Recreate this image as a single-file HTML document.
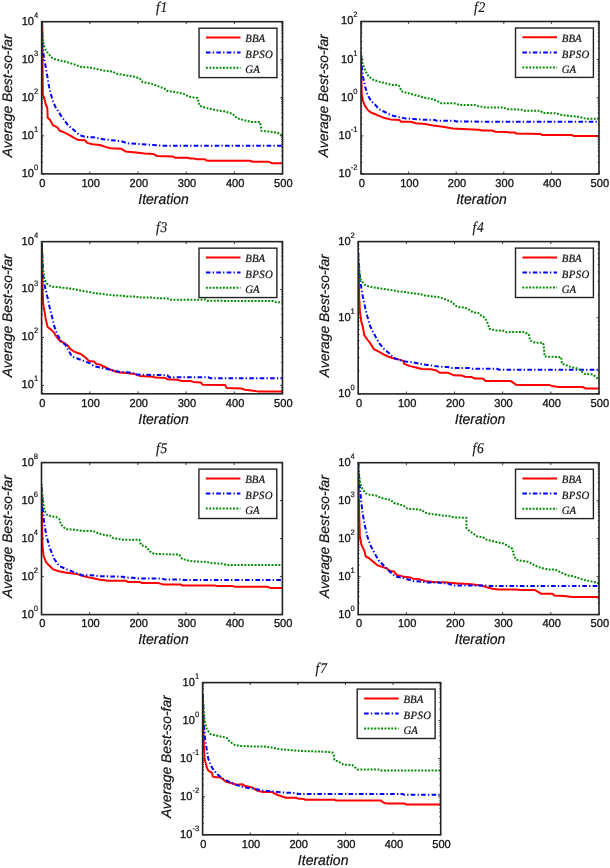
<!DOCTYPE html>
<html><head><meta charset="utf-8"><style>
html,body{margin:0;padding:0;background:#fff;}
svg{display:block;}

text{text-rendering:geometricPrecision;}
.tk{font-family:"Liberation Sans",Arial,sans-serif;font-size:11.1px;fill:#111;stroke:#111;stroke-width:0.3px;}
.sp{font-size:7.6px;stroke-width:0.18px;}
.lab{font-family:"Liberation Sans",Arial,sans-serif;font-style:italic;font-size:14.0px;fill:#111;stroke:#111;stroke-width:0.2px;}
.ylab{font-size:13.85px;}
.ti{font-family:"Liberation Serif","Times New Roman",serif;font-style:italic;font-size:13.5px;fill:#111;letter-spacing:0.8px;stroke:#111;stroke-width:0.15px;}
.lg{font-family:"Liberation Serif","Times New Roman",serif;font-style:italic;font-size:10.8px;fill:#111;stroke:#111;stroke-width:0.2px;}
</style></head><body>
<div id="wrap"><svg width="610" height="868" viewBox="0 0 610 868">
<rect width="610" height="868" fill="#fff"/>
<clipPath id="cf1"><rect x="41.65" y="21.7" width="240.9" height="152.2"/></clipPath>
<g clip-path="url(#cf1)">
<polyline points="42.3,24.5 42.4,40.0 42.5,60.0 42.8,94.8 44.2,97.9 45.6,104.0 47.3,108.0 47.7,117.7 49.9,119.8 53.0,125.2 57.3,127.3 59.4,130.5 63.7,132.2 69.0,134.8 75.4,138.6 78.6,140.1 85.0,140.3 87.2,142.9 92.5,144.3 99.9,145.0 106.3,147.1 110.6,148.2 121.3,148.8 125.5,151.4 136.2,152.4 144.7,153.5 153.2,153.9 157.0,156.0 173.0,156.5 175.2,157.8 188.0,157.8 190.1,158.6 194.4,158.6 196.5,159.3 205.0,159.3 207.2,160.8 249.8,160.8 253.0,161.8 269.0,161.8 272.2,163.3 283.0,163.3" stroke="#ff0000" stroke-width="2" fill="none" stroke-linejoin="round"/>
<polyline points="41.8,22.0 41.9,27.3 42.7,49.1 43.7,55.4 45.3,64.7 47.3,76.1 49.4,88.6 52.5,100.0 55.6,107.3 61.6,116.6 68.0,125.2 74.4,130.5 79.7,135.2 85.0,136.9 93.5,137.3 102.1,139.0 110.6,140.1 121.3,141.2 127.6,143.3 142.6,144.3 153.2,145.0 162.4,145.8 283.0,145.8" stroke="#0000ff" stroke-width="2" fill="none" stroke-dasharray="4.6 2.2 1.3 2.3" stroke-linejoin="round"/>
<polyline points="41.8,22.0 41.9,26.3 42.7,38.8 43.7,45.0 45.8,50.2 48.4,53.8 51.5,57.4 55.6,59.5 60.8,60.6 67.1,62.1 74.4,64.4 81.8,67.2 89.3,67.4 97.8,69.3 106.3,71.0 112.7,71.5 115.9,73.6 125.5,75.3 135.1,76.8 140.4,78.9 142.6,82.1 151.1,83.6 158.5,86.4 164.5,88.5 166.7,90.7 175.2,92.1 183.7,93.8 189.0,96.8 197.6,98.1 199.7,106.0 207.2,108.1 215.7,110.2 224.2,111.3 232.7,113.9 237.0,118.3 245.5,120.5 251.9,122.0 260.0,122.0 261.5,130.9 269.0,131.6 277.5,132.6 281.7,135.2 283.0,136.0" stroke="#008c00" stroke-width="2" fill="none" stroke-dasharray="1.9 1.5" stroke-linejoin="round"/>
</g>
<path d="M41.65 173.9v-2.4M41.65 21.7v2.4M89.83 173.9v-2.4M89.83 21.7v2.4M138.01 173.9v-2.4M138.01 21.7v2.4M186.19 173.9v-2.4M186.19 21.7v2.4M234.37 173.9v-2.4M234.37 21.7v2.4M282.55 173.9v-2.4M282.55 21.7v2.4M41.65 173.9h2.4M282.55 173.9h-2.4M41.65 162.45h1.3M282.55 162.45h-1.3M41.65 155.75h1.3M282.55 155.75h-1.3M41.65 150.99h1.3M282.55 150.99h-1.3M41.65 147.3h1.3M282.55 147.3h-1.3M41.65 144.29h1.3M282.55 144.29h-1.3M41.65 141.74h1.3M282.55 141.74h-1.3M41.65 139.54h1.3M282.55 139.54h-1.3M41.65 137.59h1.3M282.55 137.59h-1.3M41.65 135.85h2.4M282.55 135.85h-2.4M41.65 124.4h1.3M282.55 124.4h-1.3M41.65 117.7h1.3M282.55 117.7h-1.3M41.65 112.94h1.3M282.55 112.94h-1.3M41.65 109.25h1.3M282.55 109.25h-1.3M41.65 106.24h1.3M282.55 106.24h-1.3M41.65 103.69h1.3M282.55 103.69h-1.3M41.65 101.49h1.3M282.55 101.49h-1.3M41.65 99.54h1.3M282.55 99.54h-1.3M41.65 97.8h2.4M282.55 97.8h-2.4M41.65 86.35h1.3M282.55 86.35h-1.3M41.65 79.65h1.3M282.55 79.65h-1.3M41.65 74.89h1.3M282.55 74.89h-1.3M41.65 71.2h1.3M282.55 71.2h-1.3M41.65 68.19h1.3M282.55 68.19h-1.3M41.65 65.64h1.3M282.55 65.64h-1.3M41.65 63.44h1.3M282.55 63.44h-1.3M41.65 61.49h1.3M282.55 61.49h-1.3M41.65 59.75h2.4M282.55 59.75h-2.4M41.65 48.3h1.3M282.55 48.3h-1.3M41.65 41.6h1.3M282.55 41.6h-1.3M41.65 36.84h1.3M282.55 36.84h-1.3M41.65 33.15h1.3M282.55 33.15h-1.3M41.65 30.14h1.3M282.55 30.14h-1.3M41.65 27.59h1.3M282.55 27.59h-1.3M41.65 25.39h1.3M282.55 25.39h-1.3M41.65 23.44h1.3M282.55 23.44h-1.3M41.65 21.7h2.4M282.55 21.7h-2.4" stroke="#222" stroke-width="0.9" fill="none"/>
<rect x="41.65" y="21.7" width="240.9" height="152.2" fill="none" stroke="#222" stroke-width="1.6"/>
<text transform="translate(42.45 186.65) scale(1 1.035)" class="tk" text-anchor="middle">0</text>
<text transform="translate(90.63 186.65) scale(1 1.035)" class="tk" text-anchor="middle">100</text>
<text transform="translate(138.81 186.65) scale(1 1.035)" class="tk" text-anchor="middle">200</text>
<text transform="translate(186.99 186.65) scale(1 1.035)" class="tk" text-anchor="middle">300</text>
<text transform="translate(235.17 186.65) scale(1 1.035)" class="tk" text-anchor="middle">400</text>
<text transform="translate(283.35 186.65) scale(1 1.035)" class="tk" text-anchor="middle">500</text>
<text transform="translate(38.25 176.8) scale(1 1.035)" class="tk" text-anchor="end">10<tspan class="sp" dy="-6.7">0</tspan></text>
<text transform="translate(38.25 138.75) scale(1 1.035)" class="tk" text-anchor="end">10<tspan class="sp" dy="-6.7">1</tspan></text>
<text transform="translate(38.25 100.7) scale(1 1.035)" class="tk" text-anchor="end">10<tspan class="sp" dy="-6.7">2</tspan></text>
<text transform="translate(38.25 62.65) scale(1 1.035)" class="tk" text-anchor="end">10<tspan class="sp" dy="-6.7">3</tspan></text>
<text transform="translate(38.25 24.6) scale(1 1.035)" class="tk" text-anchor="end">10<tspan class="sp" dy="-6.7">4</tspan></text>
<text transform="translate(163.6 203.7) scale(1 1.04)" class="lab" text-anchor="middle">Iteration</text>
<text transform="translate(12.15 95.8) rotate(-90)" class="lab ylab" text-anchor="middle">Average Best-so-far</text>
<text transform="translate(162.1 11.7) scale(1 1.1)" class="ti" text-anchor="middle">f1</text>
<rect x="199.05" y="28.2" width="77.9" height="49.4" fill="#fff" stroke="#222" stroke-width="1.4"/>
<line x1="205.95" x2="240.55" y1="37.5" y2="37.5" stroke="#ff0000" stroke-width="2" fill="none"/>
<text transform="translate(245.35 42.1) scale(1 1.04)" class="lg">BBA</text>
<line x1="205.95" x2="240.55" y1="52.6" y2="52.6" stroke="#0000ff" stroke-width="2" fill="none" stroke-dasharray="4.6 2.2 1.3 2.3"/>
<text transform="translate(245.35 57.7) scale(1 1.04)" class="lg" letter-spacing="0.35">BPSO</text>
<line x1="205.95" x2="240.55" y1="67.7" y2="67.7" stroke="#008c00" stroke-width="2" fill="none" stroke-dasharray="1.9 1.5"/>
<text transform="translate(245.35 73.3) scale(1 1.04)" class="lg">GA</text>
<clipPath id="cf2"><rect x="361" y="21.5" width="238" height="152.5"/></clipPath>
<g clip-path="url(#cf2)">
<polyline points="361.0,58.0 361.0,59.2 361.2,73.0 361.7,93.6 362.9,100.5 364.6,105.1 367.5,109.7 370.9,112.5 376.7,114.8 383.5,117.7 390.4,119.4 399.6,120.0 400.8,121.7 411.1,121.7 415.7,123.2 420.0,123.6 426.6,124.3 433.1,125.6 443.0,126.7 452.8,128.4 467.5,129.2 479.0,129.7 482.3,130.5 492.1,130.5 495.4,131.8 506.9,132.1 510.0,132.4 514.7,132.4 516.2,133.6 540.4,133.9 541.9,134.9 571.5,134.9 573.9,136.0 600.0,136.0" stroke="#ff0000" stroke-width="2" fill="none" stroke-linejoin="round"/>
<polyline points="361.1,55.5 361.2,56.9 361.7,67.2 362.9,76.4 365.2,86.7 367.5,94.8 370.9,100.5 375.5,105.1 379.0,109.1 384.7,112.0 391.6,115.4 398.5,117.1 404.2,118.3 413.4,118.9 423.3,119.7 434.8,120.0 436.4,120.7 454.4,120.7 456.9,121.6 600.0,121.8" stroke="#0000ff" stroke-width="2" fill="none" stroke-dasharray="4.6 2.2 1.3 2.3" stroke-linejoin="round"/>
<polyline points="361.1,52.0 361.2,54.6 362.3,62.6 365.2,70.7 368.6,76.4 373.2,79.8 379.0,81.6 385.8,83.3 392.7,85.0 398.5,85.0 400.2,87.9 401.3,91.3 407.6,93.0 415.7,95.3 424.9,97.7 433.1,99.3 439.7,102.1 441.3,103.3 454.4,103.3 459.3,104.9 474.1,104.9 477.4,105.9 485.6,107.5 503.6,107.5 506.9,109.2 520.9,109.5 524.0,110.7 540.4,110.7 542.7,112.9 556.7,113.4 559.8,114.6 567.6,115.7 578.5,116.8 586.3,118.8 600.0,118.8" stroke="#008c00" stroke-width="2" fill="none" stroke-dasharray="1.9 1.5" stroke-linejoin="round"/>
</g>
<path d="M361 174v-2.4M361 21.5v2.4M408.6 174v-2.4M408.6 21.5v2.4M456.2 174v-2.4M456.2 21.5v2.4M503.8 174v-2.4M503.8 21.5v2.4M551.4 174v-2.4M551.4 21.5v2.4M599 174v-2.4M599 21.5v2.4M361 174h2.4M599 174h-2.4M361 162.52h1.3M599 162.52h-1.3M361 155.81h1.3M599 155.81h-1.3M361 151.05h1.3M599 151.05h-1.3M361 147.35h1.3M599 147.35h-1.3M361 144.33h1.3M599 144.33h-1.3M361 141.78h1.3M599 141.78h-1.3M361 139.57h1.3M599 139.57h-1.3M361 137.62h1.3M599 137.62h-1.3M361 135.88h2.4M599 135.88h-2.4M361 124.4h1.3M599 124.4h-1.3M361 117.68h1.3M599 117.68h-1.3M361 112.92h1.3M599 112.92h-1.3M361 109.23h1.3M599 109.23h-1.3M361 106.21h1.3M599 106.21h-1.3M361 103.66h1.3M599 103.66h-1.3M361 101.44h1.3M599 101.44h-1.3M361 99.49h1.3M599 99.49h-1.3M361 97.75h2.4M599 97.75h-2.4M361 86.27h1.3M599 86.27h-1.3M361 79.56h1.3M599 79.56h-1.3M361 74.8h1.3M599 74.8h-1.3M361 71.1h1.3M599 71.1h-1.3M361 68.08h1.3M599 68.08h-1.3M361 65.53h1.3M599 65.53h-1.3M361 63.32h1.3M599 63.32h-1.3M361 61.37h1.3M599 61.37h-1.3M361 59.62h2.4M599 59.62h-2.4M361 48.15h1.3M599 48.15h-1.3M361 41.43h1.3M599 41.43h-1.3M361 36.67h1.3M599 36.67h-1.3M361 32.98h1.3M599 32.98h-1.3M361 29.96h1.3M599 29.96h-1.3M361 27.41h1.3M599 27.41h-1.3M361 25.19h1.3M599 25.19h-1.3M361 23.24h1.3M599 23.24h-1.3M361 21.5h2.4M599 21.5h-2.4" stroke="#222" stroke-width="0.9" fill="none"/>
<rect x="361" y="21.5" width="238" height="152.5" fill="none" stroke="#222" stroke-width="1.6"/>
<text transform="translate(361.8 186.75) scale(1 1.035)" class="tk" text-anchor="middle">0</text>
<text transform="translate(409.4 186.75) scale(1 1.035)" class="tk" text-anchor="middle">100</text>
<text transform="translate(457 186.75) scale(1 1.035)" class="tk" text-anchor="middle">200</text>
<text transform="translate(504.6 186.75) scale(1 1.035)" class="tk" text-anchor="middle">300</text>
<text transform="translate(552.2 186.75) scale(1 1.035)" class="tk" text-anchor="middle">400</text>
<text transform="translate(599.8 186.75) scale(1 1.035)" class="tk" text-anchor="middle">500</text>
<text transform="translate(357.6 176.9) scale(1 1.035)" class="tk" text-anchor="end">10<tspan class="sp" dy="-6.7">-2</tspan></text>
<text transform="translate(357.6 138.78) scale(1 1.035)" class="tk" text-anchor="end">10<tspan class="sp" dy="-6.7">-1</tspan></text>
<text transform="translate(357.6 100.65) scale(1 1.035)" class="tk" text-anchor="end">10<tspan class="sp" dy="-6.7">0</tspan></text>
<text transform="translate(357.6 62.52) scale(1 1.035)" class="tk" text-anchor="end">10<tspan class="sp" dy="-6.7">1</tspan></text>
<text transform="translate(357.6 24.4) scale(1 1.035)" class="tk" text-anchor="end">10<tspan class="sp" dy="-6.7">2</tspan></text>
<text transform="translate(481.5 203.8) scale(1 1.04)" class="lab" text-anchor="middle">Iteration</text>
<text transform="translate(327.9 95.75) rotate(-90)" class="lab ylab" text-anchor="middle">Average Best-so-far</text>
<text transform="translate(480 11.5) scale(1 1.1)" class="ti" text-anchor="middle">f2</text>
<rect x="515.5" y="28" width="77.9" height="49.4" fill="#fff" stroke="#222" stroke-width="1.4"/>
<line x1="522.4" x2="557" y1="37.3" y2="37.3" stroke="#ff0000" stroke-width="2" fill="none"/>
<text transform="translate(561.8 41.9) scale(1 1.04)" class="lg">BBA</text>
<line x1="522.4" x2="557" y1="52.4" y2="52.4" stroke="#0000ff" stroke-width="2" fill="none" stroke-dasharray="4.6 2.2 1.3 2.3"/>
<text transform="translate(561.8 57.5) scale(1 1.04)" class="lg" letter-spacing="0.35">BPSO</text>
<line x1="522.4" x2="557" y1="67.5" y2="67.5" stroke="#008c00" stroke-width="2" fill="none" stroke-dasharray="1.9 1.5"/>
<text transform="translate(561.8 73.1) scale(1 1.04)" class="lg">GA</text>
<clipPath id="cf3"><rect x="41.6" y="241.65" width="240.9" height="152.15"/></clipPath>
<g clip-path="url(#cf3)">
<polyline points="41.9,243.0 42.0,245.5 42.4,272.4 42.6,289.6 43.2,304.6 44.9,313.7 45.4,317.4 47.6,327.0 51.3,329.9 54.2,332.9 56.4,336.6 60.1,341.0 64.6,343.2 67.5,345.4 70.5,349.1 74.9,352.0 80.8,354.0 85.2,357.2 88.9,360.9 94.1,361.6 96.3,363.9 100.0,364.6 105.9,367.5 108.8,369.0 116.2,371.7 120.0,372.6 126.6,372.9 134.4,373.9 139.7,375.9 152.8,376.8 155.4,377.6 165.9,377.9 167.2,379.2 177.7,379.8 181.6,381.1 190.8,381.1 193.4,381.9 201.0,382.6 202.5,384.8 225.2,385.1 226.7,388.1 241.8,388.6 244.8,389.8 255.3,390.9 258.3,391.6 283.0,391.6" stroke="#ff0000" stroke-width="2" fill="none" stroke-linejoin="round"/>
<polyline points="41.9,243.0 42.0,247.2 42.4,261.0 43.2,275.9 44.3,283.9 46.0,290.8 47.8,298.8 49.5,306.9 51.8,316.0 54.2,326.2 57.9,335.8 61.6,341.7 65.3,344.7 68.2,349.8 71.9,356.5 77.8,358.7 83.7,360.9 89.6,363.1 94.1,366.1 100.0,367.5 107.3,369.0 114.7,370.8 120.0,372.0 131.8,372.6 137.0,374.6 167.2,375.2 169.2,377.2 208.6,377.3 210.1,378.2 283.0,378.2" stroke="#0000ff" stroke-width="2" fill="none" stroke-dasharray="4.6 2.2 1.3 2.3" stroke-linejoin="round"/>
<polyline points="41.9,243.0 42.0,250.6 42.4,261.0 43.2,270.1 44.3,278.2 46.6,283.3 49.5,285.6 52.9,286.8 58.7,287.1 64.4,287.9 70.1,288.5 75.9,289.6 81.6,290.8 88.5,291.9 94.2,292.9 100.0,293.7 106.6,294.6 114.8,295.4 123.0,295.7 126.2,296.6 136.1,296.6 139.3,297.4 152.5,297.4 155.7,298.2 167.2,298.4 170.5,299.8 205.6,299.6 207.1,300.8 273.4,301.1 276.4,302.2 283.0,302.2" stroke="#008c00" stroke-width="2" fill="none" stroke-dasharray="1.9 1.5" stroke-linejoin="round"/>
</g>
<path d="M41.6 393.8v-2.4M41.6 241.65v2.4M89.78 393.8v-2.4M89.78 241.65v2.4M137.96 393.8v-2.4M137.96 241.65v2.4M186.14 393.8v-2.4M186.14 241.65v2.4M234.32 393.8v-2.4M234.32 241.65v2.4M282.5 393.8v-2.4M282.5 241.65v2.4M41.6 392.77h1.3M282.5 392.77h-1.3M41.6 389.99h1.3M282.5 389.99h-1.3M41.6 387.54h1.3M282.5 387.54h-1.3M41.6 385.35h2.4M282.5 385.35h-2.4M41.6 370.93h1.3M282.5 370.93h-1.3M41.6 362.5h1.3M282.5 362.5h-1.3M41.6 356.51h1.3M282.5 356.51h-1.3M41.6 351.87h1.3M282.5 351.87h-1.3M41.6 348.08h1.3M282.5 348.08h-1.3M41.6 344.87h1.3M282.5 344.87h-1.3M41.6 342.09h1.3M282.5 342.09h-1.3M41.6 339.64h1.3M282.5 339.64h-1.3M41.6 337.45h2.4M282.5 337.45h-2.4M41.6 323.03h1.3M282.5 323.03h-1.3M41.6 314.6h1.3M282.5 314.6h-1.3M41.6 308.61h1.3M282.5 308.61h-1.3M41.6 303.97h1.3M282.5 303.97h-1.3M41.6 300.18h1.3M282.5 300.18h-1.3M41.6 296.97h1.3M282.5 296.97h-1.3M41.6 294.19h1.3M282.5 294.19h-1.3M41.6 291.74h1.3M282.5 291.74h-1.3M41.6 289.55h2.4M282.5 289.55h-2.4M41.6 275.13h1.3M282.5 275.13h-1.3M41.6 266.7h1.3M282.5 266.7h-1.3M41.6 260.71h1.3M282.5 260.71h-1.3M41.6 256.07h1.3M282.5 256.07h-1.3M41.6 252.28h1.3M282.5 252.28h-1.3M41.6 249.07h1.3M282.5 249.07h-1.3M41.6 246.29h1.3M282.5 246.29h-1.3M41.6 243.84h1.3M282.5 243.84h-1.3M41.6 241.65h2.4M282.5 241.65h-2.4" stroke="#222" stroke-width="0.9" fill="none"/>
<rect x="41.6" y="241.65" width="240.9" height="152.15" fill="none" stroke="#222" stroke-width="1.6"/>
<text transform="translate(42.4 406.55) scale(1 1.035)" class="tk" text-anchor="middle">0</text>
<text transform="translate(90.58 406.55) scale(1 1.035)" class="tk" text-anchor="middle">100</text>
<text transform="translate(138.76 406.55) scale(1 1.035)" class="tk" text-anchor="middle">200</text>
<text transform="translate(186.94 406.55) scale(1 1.035)" class="tk" text-anchor="middle">300</text>
<text transform="translate(235.12 406.55) scale(1 1.035)" class="tk" text-anchor="middle">400</text>
<text transform="translate(283.3 406.55) scale(1 1.035)" class="tk" text-anchor="middle">500</text>
<text transform="translate(38.2 388.25) scale(1 1.035)" class="tk" text-anchor="end">10<tspan class="sp" dy="-6.7">1</tspan></text>
<text transform="translate(38.2 340.35) scale(1 1.035)" class="tk" text-anchor="end">10<tspan class="sp" dy="-6.7">2</tspan></text>
<text transform="translate(38.2 292.45) scale(1 1.035)" class="tk" text-anchor="end">10<tspan class="sp" dy="-6.7">3</tspan></text>
<text transform="translate(38.2 244.55) scale(1 1.035)" class="tk" text-anchor="end">10<tspan class="sp" dy="-6.7">4</tspan></text>
<text transform="translate(163.55 423.6) scale(1 1.04)" class="lab" text-anchor="middle">Iteration</text>
<text transform="translate(12.1 315.73) rotate(-90)" class="lab ylab" text-anchor="middle">Average Best-so-far</text>
<text transform="translate(162.05 231.65) scale(1 1.1)" class="ti" text-anchor="middle">f3</text>
<rect x="199" y="248.15" width="77.9" height="49.4" fill="#fff" stroke="#222" stroke-width="1.4"/>
<line x1="205.9" x2="240.5" y1="257.45" y2="257.45" stroke="#ff0000" stroke-width="2" fill="none"/>
<text transform="translate(245.3 262.05) scale(1 1.04)" class="lg">BBA</text>
<line x1="205.9" x2="240.5" y1="272.55" y2="272.55" stroke="#0000ff" stroke-width="2" fill="none" stroke-dasharray="4.6 2.2 1.3 2.3"/>
<text transform="translate(245.3 277.65) scale(1 1.04)" class="lg" letter-spacing="0.35">BPSO</text>
<line x1="205.9" x2="240.5" y1="287.65" y2="287.65" stroke="#008c00" stroke-width="2" fill="none" stroke-dasharray="1.9 1.5"/>
<text transform="translate(245.3 293.25) scale(1 1.04)" class="lg">GA</text>
<clipPath id="cf4"><rect x="358.2" y="241.6" width="240.8" height="152.3"/></clipPath>
<g clip-path="url(#cf4)">
<polyline points="358.3,262.0 358.4,267.5 358.9,282.3 359.2,297.0 359.9,311.8 361.4,322.1 362.9,327.3 364.3,335.1 367.3,339.5 370.2,343.2 373.9,349.1 378.3,351.3 383.5,354.3 387.9,356.5 392.4,358.0 398.3,359.4 403.4,360.9 404.2,363.9 410.1,366.1 416.0,367.5 421.9,369.0 430.7,369.3 436.6,370.5 439.6,372.7 448.3,372.8 453.8,375.3 462.1,375.6 464.9,376.7 471.8,377.1 474.5,378.4 482.8,378.4 485.6,380.9 510.5,380.9 514.6,383.6 516.0,384.7 520.8,385.1 549.6,385.1 552.5,386.1 558.3,387.1 582.8,387.1 585.7,388.5 600.0,388.5" stroke="#ff0000" stroke-width="2" fill="none" stroke-linejoin="round"/>
<polyline points="358.3,253.0 358.4,256.4 359.2,267.5 359.9,277.8 361.4,288.2 362.9,297.0 365.1,307.3 367.3,316.2 370.2,326.2 374.7,335.1 379.1,343.2 383.5,348.4 389.4,353.5 393.8,358.0 399.7,360.2 405.6,361.6 413.0,362.4 420.4,363.9 427.8,364.9 433.7,365.8 440.0,366.8 448.3,367.0 449.7,368.0 469.0,368.0 471.8,368.7 496.6,368.7 499.4,369.8 600.0,369.8" stroke="#0000ff" stroke-width="2" fill="none" stroke-dasharray="4.6 2.2 1.3 2.3" stroke-linejoin="round"/>
<polyline points="358.3,255.0 358.4,260.1 359.2,271.9 360.6,279.3 364.3,284.5 368.8,286.4 376.1,287.9 383.5,288.9 390.9,289.9 398.3,291.4 405.6,292.1 413.0,293.3 420.4,294.1 424.8,295.5 435.1,296.7 440.0,297.3 446.9,300.0 452.4,302.1 455.2,305.6 458.0,306.9 464.9,307.6 469.0,309.7 473.2,312.5 478.7,313.2 481.5,315.9 484.2,317.3 487.0,321.5 489.7,329.0 495.3,330.4 503.6,330.8 506.3,332.2 523.7,331.9 528.7,334.1 530.2,340.6 535.2,342.8 543.1,342.8 543.9,347.8 544.6,356.5 561.2,357.2 561.9,363.7 569.8,366.6 578.5,368.7 584.3,373.8 592.9,374.5 598.0,378.8 600.0,379.5" stroke="#008c00" stroke-width="2" fill="none" stroke-dasharray="1.9 1.5" stroke-linejoin="round"/>
</g>
<path d="M358.2 393.9v-2.4M358.2 241.6v2.4M406.36 393.9v-2.4M406.36 241.6v2.4M454.52 393.9v-2.4M454.52 241.6v2.4M502.68 393.9v-2.4M502.68 241.6v2.4M550.84 393.9v-2.4M550.84 241.6v2.4M599 393.9v-2.4M599 241.6v2.4M358.2 393.9h2.4M599 393.9h-2.4M358.2 370.98h1.3M599 370.98h-1.3M358.2 357.57h1.3M599 357.57h-1.3M358.2 348.05h1.3M599 348.05h-1.3M358.2 340.67h1.3M599 340.67h-1.3M358.2 334.64h1.3M599 334.64h-1.3M358.2 329.55h1.3M599 329.55h-1.3M358.2 325.13h1.3M599 325.13h-1.3M358.2 321.23h1.3M599 321.23h-1.3M358.2 317.75h2.4M599 317.75h-2.4M358.2 294.83h1.3M599 294.83h-1.3M358.2 281.42h1.3M599 281.42h-1.3M358.2 271.9h1.3M599 271.9h-1.3M358.2 264.52h1.3M599 264.52h-1.3M358.2 258.49h1.3M599 258.49h-1.3M358.2 253.4h1.3M599 253.4h-1.3M358.2 248.98h1.3M599 248.98h-1.3M358.2 245.08h1.3M599 245.08h-1.3M358.2 241.6h2.4M599 241.6h-2.4" stroke="#222" stroke-width="0.9" fill="none"/>
<rect x="358.2" y="241.6" width="240.8" height="152.3" fill="none" stroke="#222" stroke-width="1.6"/>
<text transform="translate(359 406.65) scale(1 1.035)" class="tk" text-anchor="middle">0</text>
<text transform="translate(407.16 406.65) scale(1 1.035)" class="tk" text-anchor="middle">100</text>
<text transform="translate(455.32 406.65) scale(1 1.035)" class="tk" text-anchor="middle">200</text>
<text transform="translate(503.48 406.65) scale(1 1.035)" class="tk" text-anchor="middle">300</text>
<text transform="translate(551.64 406.65) scale(1 1.035)" class="tk" text-anchor="middle">400</text>
<text transform="translate(599.8 406.65) scale(1 1.035)" class="tk" text-anchor="middle">500</text>
<text transform="translate(354.8 396.8) scale(1 1.035)" class="tk" text-anchor="end">10<tspan class="sp" dy="-6.7">0</tspan></text>
<text transform="translate(354.8 320.65) scale(1 1.035)" class="tk" text-anchor="end">10<tspan class="sp" dy="-6.7">1</tspan></text>
<text transform="translate(354.8 244.5) scale(1 1.035)" class="tk" text-anchor="end">10<tspan class="sp" dy="-6.7">2</tspan></text>
<text transform="translate(480.1 423.7) scale(1 1.04)" class="lab" text-anchor="middle">Iteration</text>
<text transform="translate(328.7 315.75) rotate(-90)" class="lab ylab" text-anchor="middle">Average Best-so-far</text>
<text transform="translate(478.6 231.6) scale(1 1.1)" class="ti" text-anchor="middle">f4</text>
<rect x="515.5" y="248.1" width="77.9" height="49.4" fill="#fff" stroke="#222" stroke-width="1.4"/>
<line x1="522.4" x2="557" y1="257.4" y2="257.4" stroke="#ff0000" stroke-width="2" fill="none"/>
<text transform="translate(561.8 262) scale(1 1.04)" class="lg">BBA</text>
<line x1="522.4" x2="557" y1="272.5" y2="272.5" stroke="#0000ff" stroke-width="2" fill="none" stroke-dasharray="4.6 2.2 1.3 2.3"/>
<text transform="translate(561.8 277.6) scale(1 1.04)" class="lg" letter-spacing="0.35">BPSO</text>
<line x1="522.4" x2="557" y1="287.6" y2="287.6" stroke="#008c00" stroke-width="2" fill="none" stroke-dasharray="1.9 1.5"/>
<text transform="translate(561.8 293.2) scale(1 1.04)" class="lg">GA</text>
<clipPath id="cf5"><rect x="41.5" y="462.6" width="240.9" height="152"/></clipPath>
<g clip-path="url(#cf5)">
<polyline points="41.8,494.0 41.9,496.0 42.2,533.7 42.5,546.0 43.6,556.0 46.1,562.4 48.7,565.0 51.2,567.5 53.1,569.4 58.8,571.3 65.1,572.5 73.0,573.4 76.7,573.9 82.2,575.8 89.6,577.6 98.8,579.4 108.0,580.7 126.2,580.8 127.7,581.9 139.5,581.9 141.7,582.9 157.2,582.9 163.1,584.4 180.8,584.4 182.3,585.4 214.6,585.4 217.6,586.1 232.7,586.1 235.0,586.8 267.4,586.8 270.4,587.9 283.0,587.9" stroke="#ff0000" stroke-width="2" fill="none" stroke-linejoin="round"/>
<polyline points="41.6,487.0 41.7,489.5 42.6,506.1 43.9,520.8 46.3,535.6 50.0,548.5 54.6,559.5 59.2,566.0 65.6,568.8 74.9,572.4 82.2,575.2 91.5,575.2 98.8,576.1 110.0,576.4 123.3,576.7 124.8,577.5 133.6,577.8 136.6,578.5 161.6,578.5 164.6,579.4 179.3,579.4 181.6,580.1 283.0,580.1" stroke="#0000ff" stroke-width="2" fill="none" stroke-dasharray="4.6 2.2 1.3 2.3" stroke-linejoin="round"/>
<polyline points="41.6,484.0 41.7,486.7 42.6,496.9 43.9,507.9 46.3,514.4 50.9,516.2 56.4,517.1 59.2,519.0 61.0,524.5 65.6,529.1 74.9,529.7 84.1,531.0 93.3,531.0 98.8,533.7 108.0,535.6 110.0,535.4 113.0,538.1 124.8,539.8 139.5,539.8 141.0,545.0 146.9,547.2 149.1,550.9 154.3,553.9 179.3,554.6 182.3,559.0 189.7,560.8 195.0,561.5 207.1,561.9 210.1,563.0 222.1,563.7 226.7,564.9 283.0,564.9" stroke="#008c00" stroke-width="2" fill="none" stroke-dasharray="1.9 1.5" stroke-linejoin="round"/>
</g>
<path d="M41.5 614.6v-2.4M41.5 462.6v2.4M89.68 614.6v-2.4M89.68 462.6v2.4M137.86 614.6v-2.4M137.86 462.6v2.4M186.04 614.6v-2.4M186.04 462.6v2.4M234.22 614.6v-2.4M234.22 462.6v2.4M282.4 614.6v-2.4M282.4 462.6v2.4M41.5 614.6h2.4M282.4 614.6h-2.4M41.5 576.6h2.4M282.4 576.6h-2.4M41.5 538.6h2.4M282.4 538.6h-2.4M41.5 500.6h2.4M282.4 500.6h-2.4M41.5 462.6h2.4M282.4 462.6h-2.4" stroke="#222" stroke-width="0.9" fill="none"/>
<rect x="41.5" y="462.6" width="240.9" height="152" fill="none" stroke="#222" stroke-width="1.6"/>
<text transform="translate(42.3 627.35) scale(1 1.035)" class="tk" text-anchor="middle">0</text>
<text transform="translate(90.48 627.35) scale(1 1.035)" class="tk" text-anchor="middle">100</text>
<text transform="translate(138.66 627.35) scale(1 1.035)" class="tk" text-anchor="middle">200</text>
<text transform="translate(186.84 627.35) scale(1 1.035)" class="tk" text-anchor="middle">300</text>
<text transform="translate(235.02 627.35) scale(1 1.035)" class="tk" text-anchor="middle">400</text>
<text transform="translate(283.2 627.35) scale(1 1.035)" class="tk" text-anchor="middle">500</text>
<text transform="translate(38.1 617.5) scale(1 1.035)" class="tk" text-anchor="end">10<tspan class="sp" dy="-6.7">0</tspan></text>
<text transform="translate(38.1 579.5) scale(1 1.035)" class="tk" text-anchor="end">10<tspan class="sp" dy="-6.7">2</tspan></text>
<text transform="translate(38.1 541.5) scale(1 1.035)" class="tk" text-anchor="end">10<tspan class="sp" dy="-6.7">4</tspan></text>
<text transform="translate(38.1 503.5) scale(1 1.035)" class="tk" text-anchor="end">10<tspan class="sp" dy="-6.7">6</tspan></text>
<text transform="translate(38.1 465.5) scale(1 1.035)" class="tk" text-anchor="end">10<tspan class="sp" dy="-6.7">8</tspan></text>
<text transform="translate(163.45 644.4) scale(1 1.04)" class="lab" text-anchor="middle">Iteration</text>
<text transform="translate(12 536.6) rotate(-90)" class="lab ylab" text-anchor="middle">Average Best-so-far</text>
<text transform="translate(161.95 452.6) scale(1 1.1)" class="ti" text-anchor="middle">f5</text>
<rect x="198.9" y="469.1" width="77.9" height="49.4" fill="#fff" stroke="#222" stroke-width="1.4"/>
<line x1="205.8" x2="240.4" y1="478.4" y2="478.4" stroke="#ff0000" stroke-width="2" fill="none"/>
<text transform="translate(245.2 483) scale(1 1.04)" class="lg">BBA</text>
<line x1="205.8" x2="240.4" y1="493.5" y2="493.5" stroke="#0000ff" stroke-width="2" fill="none" stroke-dasharray="4.6 2.2 1.3 2.3"/>
<text transform="translate(245.2 498.6) scale(1 1.04)" class="lg" letter-spacing="0.35">BPSO</text>
<line x1="205.8" x2="240.4" y1="508.6" y2="508.6" stroke="#008c00" stroke-width="2" fill="none" stroke-dasharray="1.9 1.5"/>
<text transform="translate(245.2 514.2) scale(1 1.04)" class="lg">GA</text>
<clipPath id="cf6"><rect x="358.2" y="462.7" width="240.8" height="151.9"/></clipPath>
<g clip-path="url(#cf6)">
<polyline points="358.3,473.0 358.4,477.2 358.9,502.3 359.5,525.9 359.9,535.9 361.4,544.8 364.3,550.7 365.8,556.6 368.8,558.0 373.2,561.7 377.6,565.4 382.0,566.9 386.5,568.4 390.9,571.3 393.8,571.3 396.8,575.0 402.7,576.5 410.1,577.5 413.0,578.7 418.9,579.1 424.8,580.9 433.7,581.9 444.0,582.3 458.0,583.4 469.0,584.1 481.5,585.5 487.0,587.3 492.5,588.7 498.0,589.6 515.0,589.4 520.8,590.1 535.2,590.1 541.0,593.7 552.5,593.7 554.0,595.4 564.1,595.9 572.7,597.0 597.3,597.0 598.7,598.3 600.0,598.5" stroke="#ff0000" stroke-width="2" fill="none" stroke-linejoin="round"/>
<polyline points="358.3,463.0 358.4,465.4 359.2,480.1 360.6,494.9 362.1,509.6 364.3,522.9 367.3,536.2 370.2,544.8 374.7,553.6 379.1,561.0 385.0,566.9 389.4,571.3 395.3,576.5 399.7,577.2 405.6,578.7 413.0,580.9 420.4,581.6 427.8,582.4 436.6,582.4 444.0,583.2 448.3,583.6 452.4,585.5 487.0,585.5 491.1,586.0 600.0,586.0" stroke="#0000ff" stroke-width="2" fill="none" stroke-dasharray="4.6 2.2 1.3 2.3" stroke-linejoin="round"/>
<polyline points="358.3,464.0 358.4,466.9 359.2,475.7 360.6,484.6 362.9,489.7 365.8,493.4 370.2,494.9 376.1,495.6 380.6,497.8 386.5,499.3 390.9,500.0 393.8,503.0 399.7,504.5 404.2,506.0 407.1,508.6 416.0,509.3 421.9,509.9 424.8,512.6 430.7,514.1 438.1,514.8 444.0,515.7 448.3,515.7 453.8,517.4 466.3,517.8 466.5,528.2 470.4,531.6 477.3,536.5 482.8,537.1 487.0,539.9 499.4,542.7 503.6,543.4 512.5,548.9 513.9,555.8 516.0,559.5 519.3,560.5 528.0,561.7 533.8,564.8 538.1,567.0 548.2,569.5 555.4,569.5 559.7,571.8 568.4,575.7 572.7,576.1 578.5,578.1 584.3,580.0 590.0,581.0 597.3,582.9 600.0,583.4" stroke="#008c00" stroke-width="2" fill="none" stroke-dasharray="1.9 1.5" stroke-linejoin="round"/>
</g>
<path d="M358.2 614.6v-2.4M358.2 462.7v2.4M406.36 614.6v-2.4M406.36 462.7v2.4M454.52 614.6v-2.4M454.52 462.7v2.4M502.68 614.6v-2.4M502.68 462.7v2.4M550.84 614.6v-2.4M550.84 462.7v2.4M599 614.6v-2.4M599 462.7v2.4M358.2 614.6h2.4M599 614.6h-2.4M358.2 603.17h1.3M599 603.17h-1.3M358.2 596.48h1.3M599 596.48h-1.3M358.2 591.74h1.3M599 591.74h-1.3M358.2 588.06h1.3M599 588.06h-1.3M358.2 585.05h1.3M599 585.05h-1.3M358.2 582.51h1.3M599 582.51h-1.3M358.2 580.31h1.3M599 580.31h-1.3M358.2 578.36h1.3M599 578.36h-1.3M358.2 576.62h2.4M599 576.62h-2.4M358.2 565.19h1.3M599 565.19h-1.3M358.2 558.51h1.3M599 558.51h-1.3M358.2 553.76h1.3M599 553.76h-1.3M358.2 550.08h1.3M599 550.08h-1.3M358.2 547.07h1.3M599 547.07h-1.3M358.2 544.53h1.3M599 544.53h-1.3M358.2 542.33h1.3M599 542.33h-1.3M358.2 540.39h1.3M599 540.39h-1.3M358.2 538.65h2.4M599 538.65h-2.4M358.2 527.22h1.3M599 527.22h-1.3M358.2 520.53h1.3M599 520.53h-1.3M358.2 515.79h1.3M599 515.79h-1.3M358.2 512.11h1.3M599 512.11h-1.3M358.2 509.1h1.3M599 509.1h-1.3M358.2 506.56h1.3M599 506.56h-1.3M358.2 504.36h1.3M599 504.36h-1.3M358.2 502.41h1.3M599 502.41h-1.3M358.2 500.68h2.4M599 500.68h-2.4M358.2 489.24h1.3M599 489.24h-1.3M358.2 482.56h1.3M599 482.56h-1.3M358.2 477.81h1.3M599 477.81h-1.3M358.2 474.13h1.3M599 474.13h-1.3M358.2 471.12h1.3M599 471.12h-1.3M358.2 468.58h1.3M599 468.58h-1.3M358.2 466.38h1.3M599 466.38h-1.3M358.2 464.44h1.3M599 464.44h-1.3M358.2 462.7h2.4M599 462.7h-2.4" stroke="#222" stroke-width="0.9" fill="none"/>
<rect x="358.2" y="462.7" width="240.8" height="151.9" fill="none" stroke="#222" stroke-width="1.6"/>
<text transform="translate(359 627.35) scale(1 1.035)" class="tk" text-anchor="middle">0</text>
<text transform="translate(407.16 627.35) scale(1 1.035)" class="tk" text-anchor="middle">100</text>
<text transform="translate(455.32 627.35) scale(1 1.035)" class="tk" text-anchor="middle">200</text>
<text transform="translate(503.48 627.35) scale(1 1.035)" class="tk" text-anchor="middle">300</text>
<text transform="translate(551.64 627.35) scale(1 1.035)" class="tk" text-anchor="middle">400</text>
<text transform="translate(599.8 627.35) scale(1 1.035)" class="tk" text-anchor="middle">500</text>
<text transform="translate(354.8 617.5) scale(1 1.035)" class="tk" text-anchor="end">10<tspan class="sp" dy="-6.7">0</tspan></text>
<text transform="translate(354.8 579.52) scale(1 1.035)" class="tk" text-anchor="end">10<tspan class="sp" dy="-6.7">1</tspan></text>
<text transform="translate(354.8 541.55) scale(1 1.035)" class="tk" text-anchor="end">10<tspan class="sp" dy="-6.7">2</tspan></text>
<text transform="translate(354.8 503.57) scale(1 1.035)" class="tk" text-anchor="end">10<tspan class="sp" dy="-6.7">3</tspan></text>
<text transform="translate(354.8 465.6) scale(1 1.035)" class="tk" text-anchor="end">10<tspan class="sp" dy="-6.7">4</tspan></text>
<text transform="translate(480.1 644.4) scale(1 1.04)" class="lab" text-anchor="middle">Iteration</text>
<text transform="translate(328.7 536.65) rotate(-90)" class="lab ylab" text-anchor="middle">Average Best-so-far</text>
<text transform="translate(478.6 452.7) scale(1 1.1)" class="ti" text-anchor="middle">f6</text>
<rect x="515.5" y="469.2" width="77.9" height="49.4" fill="#fff" stroke="#222" stroke-width="1.4"/>
<line x1="522.4" x2="557" y1="478.5" y2="478.5" stroke="#ff0000" stroke-width="2" fill="none"/>
<text transform="translate(561.8 483.1) scale(1 1.04)" class="lg">BBA</text>
<line x1="522.4" x2="557" y1="493.6" y2="493.6" stroke="#0000ff" stroke-width="2" fill="none" stroke-dasharray="4.6 2.2 1.3 2.3"/>
<text transform="translate(561.8 498.7) scale(1 1.04)" class="lg" letter-spacing="0.35">BPSO</text>
<line x1="522.4" x2="557" y1="508.7" y2="508.7" stroke="#008c00" stroke-width="2" fill="none" stroke-dasharray="1.9 1.5"/>
<text transform="translate(561.8 514.3) scale(1 1.04)" class="lg">GA</text>
<clipPath id="cf7"><rect x="202.6" y="682.6" width="238.1" height="152.2"/></clipPath>
<g clip-path="url(#cf7)">
<polyline points="202.8,694.0 202.9,697.2 203.2,722.3 203.9,747.3 204.6,758.9 206.9,767.7 208.3,770.7 212.0,772.9 212.8,776.6 215.7,777.3 220.1,777.3 223.1,779.5 226.0,781.7 231.9,783.2 236.4,784.7 242.3,784.2 245.2,786.1 252.6,787.6 257.0,790.6 262.9,792.0 271.8,792.0 277.7,795.0 282.0,796.5 285.9,797.8 296.2,797.8 297.7,798.5 303.6,798.9 305.1,799.7 334.6,799.7 336.1,800.6 380.9,800.6 383.7,802.7 386.5,803.4 404.6,803.4 406.0,804.4 441.5,804.4" stroke="#ff0000" stroke-width="2" fill="none" stroke-linejoin="round"/>
<polyline points="202.8,694.0 202.9,696.4 203.5,714.9 204.2,729.6 205.4,741.4 206.9,750.3 208.3,758.9 212.0,767.7 217.2,774.3 223.1,778.8 230.5,782.5 237.8,785.4 245.2,787.6 254.1,788.7 262.9,790.6 271.8,791.3 280.0,792.3 284.4,792.6 296.2,793.0 298.4,794.1 360.0,793.9 401.8,793.9 404.6,794.8 441.5,794.8" stroke="#0000ff" stroke-width="2" fill="none" stroke-dasharray="4.6 2.2 1.3 2.3" stroke-linejoin="round"/>
<polyline points="202.8,694.0 202.9,697.2 203.6,707.5 204.6,720.8 206.9,729.6 210.5,734.1 215.7,735.5 221.6,736.7 226.8,737.8 229.0,740.7 233.4,744.4 239.3,745.9 246.7,746.2 254.1,746.6 264.4,746.6 271.8,747.6 280.0,749.2 291.8,750.2 302.1,751.0 324.3,751.7 332.4,752.5 333.9,755.4 334.3,759.8 339.0,762.0 343.4,764.6 352.3,765.0 357.5,769.4 379.5,769.5 380.9,770.4 441.5,770.4" stroke="#008c00" stroke-width="2" fill="none" stroke-dasharray="1.9 1.5" stroke-linejoin="round"/>
</g>
<path d="M202.6 834.8v-2.4M202.6 682.6v2.4M250.22 834.8v-2.4M250.22 682.6v2.4M297.84 834.8v-2.4M297.84 682.6v2.4M345.46 834.8v-2.4M345.46 682.6v2.4M393.08 834.8v-2.4M393.08 682.6v2.4M440.7 834.8v-2.4M440.7 682.6v2.4M202.6 834.8h2.4M440.7 834.8h-2.4M202.6 823.35h1.3M440.7 823.35h-1.3M202.6 816.65h1.3M440.7 816.65h-1.3M202.6 811.89h1.3M440.7 811.89h-1.3M202.6 808.2h1.3M440.7 808.2h-1.3M202.6 805.19h1.3M440.7 805.19h-1.3M202.6 802.64h1.3M440.7 802.64h-1.3M202.6 800.44h1.3M440.7 800.44h-1.3M202.6 798.49h1.3M440.7 798.49h-1.3M202.6 796.75h2.4M440.7 796.75h-2.4M202.6 785.3h1.3M440.7 785.3h-1.3M202.6 778.6h1.3M440.7 778.6h-1.3M202.6 773.84h1.3M440.7 773.84h-1.3M202.6 770.15h1.3M440.7 770.15h-1.3M202.6 767.14h1.3M440.7 767.14h-1.3M202.6 764.59h1.3M440.7 764.59h-1.3M202.6 762.39h1.3M440.7 762.39h-1.3M202.6 760.44h1.3M440.7 760.44h-1.3M202.6 758.7h2.4M440.7 758.7h-2.4M202.6 747.25h1.3M440.7 747.25h-1.3M202.6 740.55h1.3M440.7 740.55h-1.3M202.6 735.79h1.3M440.7 735.79h-1.3M202.6 732.1h1.3M440.7 732.1h-1.3M202.6 729.09h1.3M440.7 729.09h-1.3M202.6 726.54h1.3M440.7 726.54h-1.3M202.6 724.34h1.3M440.7 724.34h-1.3M202.6 722.39h1.3M440.7 722.39h-1.3M202.6 720.65h2.4M440.7 720.65h-2.4M202.6 709.2h1.3M440.7 709.2h-1.3M202.6 702.5h1.3M440.7 702.5h-1.3M202.6 697.74h1.3M440.7 697.74h-1.3M202.6 694.05h1.3M440.7 694.05h-1.3M202.6 691.04h1.3M440.7 691.04h-1.3M202.6 688.49h1.3M440.7 688.49h-1.3M202.6 686.29h1.3M440.7 686.29h-1.3M202.6 684.34h1.3M440.7 684.34h-1.3M202.6 682.6h2.4M440.7 682.6h-2.4" stroke="#222" stroke-width="0.9" fill="none"/>
<rect x="202.6" y="682.6" width="238.1" height="152.2" fill="none" stroke="#222" stroke-width="1.6"/>
<text transform="translate(203.4 847.55) scale(1 1.035)" class="tk" text-anchor="middle">0</text>
<text transform="translate(251.02 847.55) scale(1 1.035)" class="tk" text-anchor="middle">100</text>
<text transform="translate(298.64 847.55) scale(1 1.035)" class="tk" text-anchor="middle">200</text>
<text transform="translate(346.26 847.55) scale(1 1.035)" class="tk" text-anchor="middle">300</text>
<text transform="translate(393.88 847.55) scale(1 1.035)" class="tk" text-anchor="middle">400</text>
<text transform="translate(441.5 847.55) scale(1 1.035)" class="tk" text-anchor="middle">500</text>
<text transform="translate(199.2 837.7) scale(1 1.035)" class="tk" text-anchor="end">10<tspan class="sp" dy="-6.7">-3</tspan></text>
<text transform="translate(199.2 799.65) scale(1 1.035)" class="tk" text-anchor="end">10<tspan class="sp" dy="-6.7">-2</tspan></text>
<text transform="translate(199.2 761.6) scale(1 1.035)" class="tk" text-anchor="end">10<tspan class="sp" dy="-6.7">-1</tspan></text>
<text transform="translate(199.2 723.55) scale(1 1.035)" class="tk" text-anchor="end">10<tspan class="sp" dy="-6.7">0</tspan></text>
<text transform="translate(199.2 685.5) scale(1 1.035)" class="tk" text-anchor="end">10<tspan class="sp" dy="-6.7">1</tspan></text>
<text transform="translate(323.15 864.6) scale(1 1.04)" class="lab" text-anchor="middle">Iteration</text>
<text transform="translate(170.5 756.7) rotate(-90)" class="lab ylab" text-anchor="middle">Average Best-so-far</text>
<text transform="translate(321.65 672.6) scale(1 1.1)" class="ti" text-anchor="middle">f7</text>
<rect x="357.2" y="689.1" width="77.9" height="49.4" fill="#fff" stroke="#222" stroke-width="1.4"/>
<line x1="364.1" x2="398.7" y1="698.4" y2="698.4" stroke="#ff0000" stroke-width="2" fill="none"/>
<text transform="translate(403.5 703) scale(1 1.04)" class="lg">BBA</text>
<line x1="364.1" x2="398.7" y1="713.5" y2="713.5" stroke="#0000ff" stroke-width="2" fill="none" stroke-dasharray="4.6 2.2 1.3 2.3"/>
<text transform="translate(403.5 718.6) scale(1 1.04)" class="lg" letter-spacing="0.35">BPSO</text>
<line x1="364.1" x2="398.7" y1="728.6" y2="728.6" stroke="#008c00" stroke-width="2" fill="none" stroke-dasharray="1.9 1.5"/>
<text transform="translate(403.5 734.2) scale(1 1.04)" class="lg">GA</text>
</svg></div>
</body></html>
